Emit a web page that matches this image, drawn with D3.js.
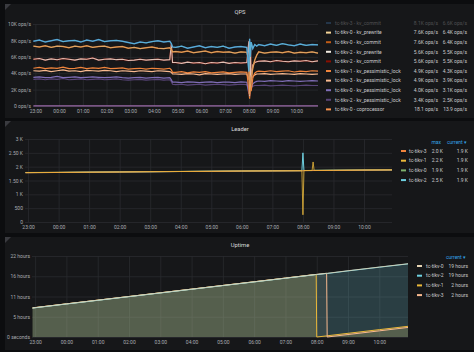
<!DOCTYPE html>
<html>
<head>
<meta charset="utf-8">
<script src="https://cdn.jsdelivr.net/npm/d3@7"></script>
<style>
  body { margin: 0; background: #0c0d0f; }
  svg { display: block; font-family: Roboto, "Noto Sans", sans-serif; }
</style>
</head>
<body>
<svg id="chart" width="474" height="352"></svg>
<script>
// ---- shared time axis ----
const hourLabels = ["23:00","00:00","01:00","02:00","03:00","04:00","05:00","06:00","07:00","08:00","09:00","10:00"];

// ---- QPS panel (values in K ops/s) ----
const qpsTimes = ["22:55","23:10","23:25","23:40","23:55","00:10","00:25","00:40","00:55","01:10","01:25","01:40","01:55","02:10","02:25","02:40","02:55","03:10","03:25","03:40","03:55","04:10","04:25","04:40","04:44","04:47","04:55","05:10","05:25","05:40","05:55","06:10","06:25","06:40","06:55","07:10","07:25","07:40","07:55","08:00","08:02","08:04","08:06","08:10","08:15","08:20","08:25","08:40","08:55","09:10","09:25","09:40","09:55","10:10","10:25","10:40","10:55"];
const tikv3Prewrite = [7.9,8.05,7.8,7.95,8.1,7.85,7.95,8.0,7.8,8.05,7.9,8.1,7.85,7.95,8.0,7.9,7.75,7.6,7.8,7.7,7.85,7.95,7.8,7.9, 7.6,7.2, 7.15,7.3,7.05,7.2,7.35,7.1,7.25,7.15,7.3,7.05,7.2,7.25,7.15, 4.2,8.2,6.0,7.8,7.0,7.5,7.3, 7.5,7.35,7.55,7.4,7.6,7.45,7.35,7.55,7.4,7.5,7.45];
const tikv0Prewrite = [7.3,7.2,7.35,7.15,7.3,7.25,7.1,7.3,7.2,7.35,7.15,7.25,7.3,7.1,7.2,7.25,7.05,7.15,7.0,7.1,7.2,7.05,7.0,7.1, 6.9,6.6, 6.65,6.55,6.7,6.5,6.6,6.7,6.5,6.65,6.55,6.6,6.45,6.6,6.55, 5.5,1.4,2.4,3.4,4.6,5.6,6.2, 6.6,6.45,6.55,6.6,6.5,6.65,6.45,6.55,6.5,6.6,6.45];
const tikv2Prewrite = [5.7,5.8,5.6,5.75,5.65,5.8,5.7,5.6,5.75,5.7,5.85,5.6,5.7,5.75,5.65,5.7,5.55,5.6,5.7,5.6,5.65,5.7,5.6,5.65, 7.6,5.3, 5.3,5.2,5.35,5.25,5.3,5.15,5.3,5.25,5.35,5.2,5.3,5.25,5.3, 7.9,1.2,7.6,3.0,5.0,5.3,5.4, 5.45,5.5,5.4,5.55,5.45,5.4,5.5,5.45,5.55,5.4,5.5];
const tikv1Lock = [4.6,4.7,4.55,4.65,4.6,4.75,4.55,4.6,4.7,4.55,4.65,4.6,4.7,4.55,4.6,4.65,4.5,4.55,4.6,4.5,4.6,4.55,4.5,4.6, 4.4,4.1, 4.1,4.2,4.05,4.15,4.1,4.2,4.05,4.1,4.15,4.05,4.1,4.15,4.1, 2.0,0.9,2.5,1.8,3.4,4.0,4.2, 4.25,4.2,4.3,4.2,4.25,4.3,4.15,4.25,4.2,4.3,4.25];
const tikv3Lock = [4.3,4.25,4.35,4.2,4.3,4.4,4.25,4.3,4.2,4.35,4.3,4.25,4.35,4.3,4.2,4.3,4.25,4.2,4.3,4.25,4.2,4.3,4.25,4.2, 4.1,3.9, 3.9,3.85,3.95,3.9,3.8,3.95,3.9,3.85,3.9,3.95,3.85,3.9,3.9, 3.2,4.5,2.2,3.0,3.6,3.8,3.9, 3.9,3.95,3.85,3.9,3.95,3.9,3.85,3.95,3.9,3.85,3.9];
const tikv0Lock = [3.5,3.55,3.45,3.5,3.6,3.45,3.5,3.55,3.45,3.5,3.55,3.5,3.45,3.5,3.55,3.45,3.4,3.45,3.5,3.4,3.45,3.5,3.4,3.45, 3.2,2.9, 2.9,2.85,2.95,2.9,2.85,2.9,2.95,2.85,2.9,2.9,2.85,2.95,2.9, 1.5,2.2,2.6,2.1,2.7,2.9,3.0, 3.05,3.0,3.1,3.05,3.0,3.1,3.05,3.0,3.05,3.1,3.05];
const tikv2Lock = [3.25,3.3,3.2,3.3,3.25,3.35,3.2,3.25,3.3,3.2,3.25,3.3,3.2,3.25,3.3,3.2,3.15,3.2,3.25,3.15,3.2,3.25,3.15,3.2, 3.0,2.65, 2.6,2.65,2.55,2.6,2.65,2.55,2.6,2.65,2.6,2.55,2.6,2.65,2.6, 1.8,1.2,2.0,2.3,2.4,2.5,2.5, 2.5,2.55,2.45,2.5,2.55,2.5,2.45,2.5,2.55,2.5,2.5];
const coprocessor = [0.015,0.016,0.014,0.017,0.015,0.016,0.014,0.015,0.017,0.016,0.015,0.014,0.016,0.015,0.017,0.015,0.014,0.016,0.015,0.016,0.014,0.015,0.016,0.015, 0.015,0.014, 0.014,0.015,0.013,0.014,0.015,0.014,0.013,0.014,0.015,0.014,0.013,0.014,0.014, 0.018,0.010,0.012,0.013,0.014,0.014,0.014, 0.014,0.013,0.014,0.015,0.014,0.013,0.014,0.015,0.014,0.013,0.014];
const qpsTicks = [0, 2, 4, 6, 8, 10];
const qpsTickLabels = ["0 ops/s","2K ops/s","4K ops/s","6K ops/s","8K ops/s","10K ops/s"];
const qpsNames = ["tc-tikv-3 - kv_commit","tc-tikv-0 - kv_prewrite","tc-tikv-0 - kv_commit","tc-tikv-2 - kv_prewrite","tc-tikv-2 - kv_commit","tc-tikv-1 - kv_pessimistic_lock","tc-tikv-3 - kv_pessimistic_lock","tc-tikv-0 - kv_pessimistic_lock","tc-tikv-2 - kv_pessimistic_lock","tc-tikv-0 - coprocessor"];
const qpsMax = ["8.1K ops/s","7.6K ops/s","7.6K ops/s","5.6K ops/s","5.6K ops/s","4.9K ops/s","4.9K ops/s","4.0K ops/s","3.4K ops/s","18.1 ops/s"];
const qpsCurrent = ["6.6K ops/s","6.4K ops/s","6.4K ops/s","5.5K ops/s","5.5K ops/s","4.3K ops/s","3.9K ops/s","3.1K ops/s","2.5K ops/s","13.9 ops/s"];

// ---- Leader panel ----
const leaderTimes = ["22:55","00:00","01:00","02:00","03:00","04:00","05:00","06:00","07:00","07:58","08:00","08:02","08:18","08:20","08:22","09:00","10:00","10:55"];
const leaderTikv0 = [1790,1795,1805,1810,1820,1830,1835,1845,1850,1855,1860,1860,1865,1865,1865,1870,1880,1885];
const leaderTikv2 = [1785,1790,1800,1810,1815,1825,1835,1840,1850,1855,2500,1860,1860,1860,1865,1870,1875,1880];
const leaderTikv3 = [1780,1790,1800,1805,1815,1825,1830,1840,1845,1850,1850,1855,1860,1860,1860,1865,1875,1880];
const leaderTikv1 = [1785,1795,1800,1810,1820,1825,1835,1845,1850,1855,260,1860,1860,2170,1865,1870,1880,1885];
const leaderTicks = [0, 500, 1000, 1500, 2000, 2500, 3000];
const leaderTickLabels = ["0","500","1 K","1.50 K","2 K","2.50 K","3 K"];
const leaderNames = ["tc-tikv-3","tc-tikv-1","tc-tikv-0","tc-tikv-2"];
const leaderMax = ["2.0 K","2.2 K","1.9 K","2.5 K"];
const leaderCurrent = ["1.9 K","1.9 K","1.9 K","1.9 K"];

// ---- Uptime panel (hours) ----
const uptimeTimes = ["22:55","00:00","01:00","02:00","03:00","04:00","05:00","06:00","07:00","07:59","08:00","08:19","08:20","09:00","10:00","10:55"];
const uptimeTikv1 = [7.9,9.0,10.0,11.0,12.0,13.0,14.0,15.0,16.0,17.0,0,0.3,0.33,1.0,2.0,2.9];
const uptimeTikv3 = [7.9,9.0,10.0,11.0,12.0,13.0,14.0,15.0,16.0,17.0,17.0,17.3,0,0.67,1.67,2.6];
const uptimeTikv2 = [7.85,8.95,9.95,10.95,11.95,12.95,13.95,14.95,15.95,16.95,16.95,17.25,17.25,17.95,18.95,19.85];
const uptimeTikv0 = [7.9,9.0,10.0,11.0,12.0,13.0,14.0,15.0,16.0,17.0,17.0,17.3,17.3,18.0,19.0,19.9];
const uptimeTicks = [0, 5.5, 11, 16.5, 22];
const uptimeTickLabels = ["0 seconds","5 hours","11 hours","16 hours","22 hours"];
const uptimeNames = ["tc-tikv-0","tc-tikv-2","tc-tikv-1","tc-tikv-3"];
const uptimeCurrent = ["19 hours","19 hours","2 hours","2 hours"];

// ---- drawing ----
const svg = d3.select("#chart");
const parseT = s => {
    const [h, m] = s.split(":").map(Number);
    return new Date(2020, 0, h >= 12 ? 1 : 2, h, m);
};
const timeDomain = [parseT("22:54"), parseT("10:55")];
const hourTicks = hourLabels.map(parseT);
const tickColor = "#a9acb1";
const textColor = "#c9cacc";

function drawPanel(top, bottom, title) {
    svg.append("rect")
        .attr("x", 5).attr("y", top)
        .attr("width", 469).attr("height", bottom - top)
        .attr("fill", "#161719");
    svg.append("path")
        .attr("d", `M5,${top} h6 l-6,6 z`)
        .attr("fill", "#3a3b40");
    svg.append("text")
        .attr("x", 240).attr("y", top + 10)
        .attr("text-anchor", "middle")
        .attr("fill", "#d8d9da")
        .attr("font-size", 5.8)
        .text(title);
}

// grid + axes, returns the scales
function drawAxes(box, yDomain, yTicks, yLabels) {
    const x = d3.scaleTime().domain(timeDomain).range([box.left, box.right]);
    const y = d3.scaleLinear().domain(yDomain).range([box.bottom, box.top]);

    const yAxis = svg.append("g")
        .attr("transform", `translate(${box.left},0)`)
        .call(d3.axisLeft(y)
            .tickValues(yTicks)
            .tickSize(-(box.right - box.left))
            .tickPadding(2)
            .tickFormat((d, i) => yLabels[i]));

    const xAxis = svg.append("g")
        .attr("transform", `translate(0,${box.bottom})`)
        .call(d3.axisBottom(x)
            .tickValues(hourTicks)
            .tickSize(-(box.bottom - box.top))
            .tickPadding(3.5)
            .tickFormat(d3.timeFormat("%H:%M")));

    [yAxis, xAxis].forEach(g => {
        g.select(".domain").remove();
        g.selectAll(".tick line").attr("stroke", "#2a2b2f").attr("stroke-width", 0.8);
        g.selectAll(".tick text")
            .attr("fill", tickColor)
            .attr("font-size", 5)
            .attr("font-family", "Roboto, sans-serif");
    });
    return { x, y };
}

function drawLine(sc, times, values, color, width, opacity) {
    const t = times.map(parseT);
    const line = d3.line()
        .x((d, i) => sc.x(t[i]))
        .y(d => sc.y(d));
    svg.append("path")
        .datum(values)
        .attr("d", line)
        .attr("fill", "none")
        .attr("stroke", color)
        .attr("stroke-width", width || 1)
        .attr("stroke-opacity", opacity || 1);
}

function drawArea(sc, times, values, color, fillOpacity) {
    const t = times.map(parseT);
    const area = d3.area()
        .x((d, i) => sc.x(t[i]))
        .y0(sc.y(0))
        .y1(d => sc.y(d));
    svg.append("path")
        .datum(values)
        .attr("d", area)
        .attr("fill", color)
        .attr("fill-opacity", fillOpacity);
}

function legendRow(y, swatchX, nameX, name, color, opacity) {
    const g = svg.append("g").attr("opacity", opacity || 1);
    g.append("rect")
        .attr("x", swatchX).attr("y", y - 1)
        .attr("width", 5).attr("height", 2)
        .attr("fill", color);
    g.append("text")
        .attr("x", nameX).attr("y", y).attr("dy", "0.35em")
        .attr("fill", textColor).attr("font-size", 5)
        .text(name);
    return g;
}

function legendValue(g, x, y, value) {
    g.append("text")
        .attr("x", x).attr("y", y).attr("dy", "0.35em")
        .attr("text-anchor", "end")
        .attr("fill", textColor).attr("font-size", 5)
        .text(value);
}

function legendHeader(x, y, label) {
    svg.append("text")
        .attr("x", x).attr("y", y).attr("dy", "0.35em")
        .attr("text-anchor", "end")
        .attr("fill", "#33a2e5").attr("font-size", 5)
        .text(label);
}

// ===== QPS =====
drawPanel(4, 118, "QPS");
const qps = drawAxes({ left: 33, right: 318, top: 24, bottom: 106 }, [0, 10], qpsTicks, qpsTickLabels);

drawLine(qps, qpsTimes, coprocessor, "#9a6aa8", 1.2);
drawLine(qps, qpsTimes, tikv2Lock, "#584477", 1.2);
drawLine(qps, qpsTimes, tikv0Lock, "#806eb7", 1.2);
drawLine(qps, qpsTimes, tikv3Lock, "#f9ba8f", 1.2);
drawLine(qps, qpsTimes, tikv1Lock, "#ef843c", 1.2);
drawLine(qps, qpsTimes, tikv2Prewrite, "#890f02", 1.4);      // kv_commit == kv_prewrite
drawLine(qps, qpsTimes, tikv2Prewrite, "#f2ece2", 1.1, 0.8);
drawLine(qps, qpsTimes, tikv0Prewrite, "#c15c17", 1.4);
drawLine(qps, qpsTimes, tikv0Prewrite, "#f4d598", 1.1, 0.6);
drawLine(qps, qpsTimes, tikv3Prewrite, "#447ebc", 1.4);
drawLine(qps, qpsTimes, tikv3Prewrite, "#70dbed", 1.1, 0.55);

const qpsColors = ["#447ebc","#f4d598","#c15c17","#f2ece2","#890f02","#ef843c","#f9ba8f","#806eb7","#584477","#f9934e"];
qpsNames.forEach((name, i) => {
    const y = 23 + i * 9.6;
    const g = legendRow(y, 326, 335, name, qpsColors[i], i === 0 ? 0.3 : 1);
    legendValue(g, 438, y, qpsMax[i]);
    legendValue(g, 467, y, qpsCurrent[i]);
});

// ===== Leader =====
drawPanel(121, 233, "Leader");
const leader = drawAxes({ left: 25, right: 392, top: 139, bottom: 222 }, [0, 3000], leaderTicks, leaderTickLabels);

drawLine(leader, leaderTimes, leaderTikv0, "#7eb26d");
drawLine(leader, leaderTimes, leaderTikv2, "#6ed0e0");
drawLine(leader, leaderTimes, leaderTikv3, "#ef843c");
drawLine(leader, leaderTimes, leaderTikv1, "#eab839", 1, 0.8);

const leaderColors = ["#ef843c","#eab839","#7eb26d","#6ed0e0"];
legendHeader(441, 142, "max");
legendHeader(467, 142, "current ▾");
leaderNames.forEach((name, i) => {
    const y = 151 + i * 9.7;
    const g = legendRow(y, 401, 409, name, leaderColors[i]);
    legendValue(g, 443, y, leaderMax[i]);
    legendValue(g, 468, y, leaderCurrent[i]);
});

// ===== Uptime =====
drawPanel(237, 350, "Uptime");
const uptime = drawAxes({ left: 32, right: 408, top: 256, bottom: 337 }, [0, 22], uptimeTicks, uptimeTickLabels);

const uptimeColors = ["#e5d3b3","#6ed0e0","#eab839","#f9ba8f"];
drawArea(uptime, uptimeTimes, uptimeTikv1, uptimeColors[2], 0.2);
drawArea(uptime, uptimeTimes, uptimeTikv3, uptimeColors[3], 0.07);
drawArea(uptime, uptimeTimes, uptimeTikv2, uptimeColors[1], 0.2);
drawArea(uptime, uptimeTimes, uptimeTikv0, uptimeColors[0], 0.02);
drawLine(uptime, uptimeTimes, uptimeTikv1, uptimeColors[2]);
drawLine(uptime, uptimeTimes, uptimeTikv3, uptimeColors[3]);
drawLine(uptime, uptimeTimes, uptimeTikv2, uptimeColors[1]);
drawLine(uptime, uptimeTimes, uptimeTikv0, uptimeColors[0], 1, 0.8);

legendHeader(466, 257, "current ▾");
uptimeNames.forEach((name, i) => {
    const y = 266 + i * 9.7;
    const g = legendRow(y, 417, 426, name, uptimeColors[i]);
    legendValue(g, 468, y, uptimeCurrent[i]);
});
</script>
</body>
</html>
